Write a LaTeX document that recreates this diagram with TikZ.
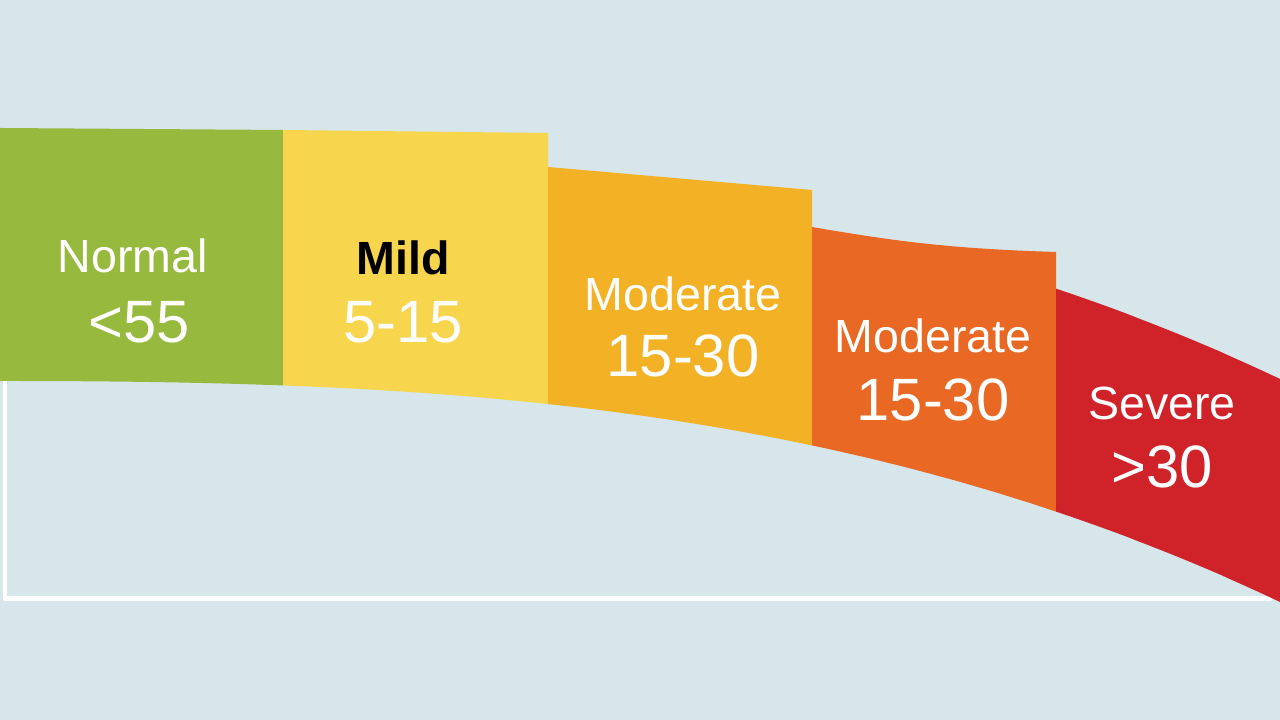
\documentclass[tikz,border=0pt]{standalone}
\usepackage{fontspec}
\setmainfont{Liberation Sans}
\usetikzlibrary{calc}
\usepackage{tkz-euclide}
\definecolor{BgClr}{RGB}{214,230,234}
\definecolor{NormalClr}{RGB}{151,185,62}
\definecolor{MildClr}{RGB}{247,214,78}
\definecolor{ModerateClr}{RGB}{243,178,38}
\definecolor{ModerateTwoClr}{RGB}{232,104,36}
\definecolor{SevereClr}{RGB}{207,34,41}

\tikzset{
  declare function={lowedge(\x)=3.39-0.00334*\x*\x-0.000788*\x*\x*\x;},
  word/.style={text=white,font=\fontsize{13.25}{16}\selectfont},
  value/.style={text=white,font=\fontsize{17}{20}\selectfont}
}

\begin{document}
\begin{tikzpicture}
\useasboundingbox (0,0) rectangle (12.8,7.2);
\fill[BgClr] (0,0) rectangle (12.8,7.2);

\tkzDefPoints{0.05/1.215/O,0.05/3.40/Y,12.70/1.215/X}
\tkzDefPoints{0/5.92/A,2.83/5.90/B,5.48/5.87/C}
\tkzDefPoints{5.48/5.53/D,8.12/5.30/E,8.12/4.93/F,10.56/4.68/G}

\tkzDrawSegments[line width=1.4pt,color=white](Y,O O,X)

% bands, each one down to the falling edge
\fill[NormalClr] (A) -- (B) -- plot[domain=2.83:0,samples=20] (\x,{lowedge(\x)}) -- cycle;
\fill[MildClr] (B) -- (C) -- plot[domain=5.48:2.83,samples=20] (\x,{lowedge(\x)}) -- cycle;
\fill[ModerateClr] (D) -- (E) -- plot[domain=8.12:5.48,samples=20] (\x,{lowedge(\x)}) -- cycle;
\fill[ModerateTwoClr] (F) to[bend right=4] (G) -- plot[domain=10.56:8.12,samples=20] (\x,{lowedge(\x)}) -- cycle;
\fill[SevereClr] plot[domain=10.56:12.8,samples=20] (\x,{lowedge(\x)+2.23})
  -- plot[domain=12.8:10.56,samples=20] (\x,{lowedge(\x)}) -- cycle;

\node[word] (normal) at (1.33,4.64) {Normal};
\node[value] (normalv) at (1.39,3.98) {<55};
\node[word,text=black,font=\fontsize{13.25}{16}\selectfont\bfseries] (mild) at (4.03,4.62) {Mild};
\node[value] (mildv) at (4.03,3.98) {5-15};
\node[word] (moderate) at (6.83,4.26) {Moderate};
\node[value] (moderatev) at (6.83,3.64) {15-30};
\node[word] (moderatetwo) at (9.33,3.84) {Moderate};
\node[value] (moderatetwov) at (9.33,3.20) {15-30};
\node[word] (severe) at (11.62,3.17) {Severe};
\node[value] (severev) at (11.62,2.53) {>30};

\end{tikzpicture}
\end{document}
